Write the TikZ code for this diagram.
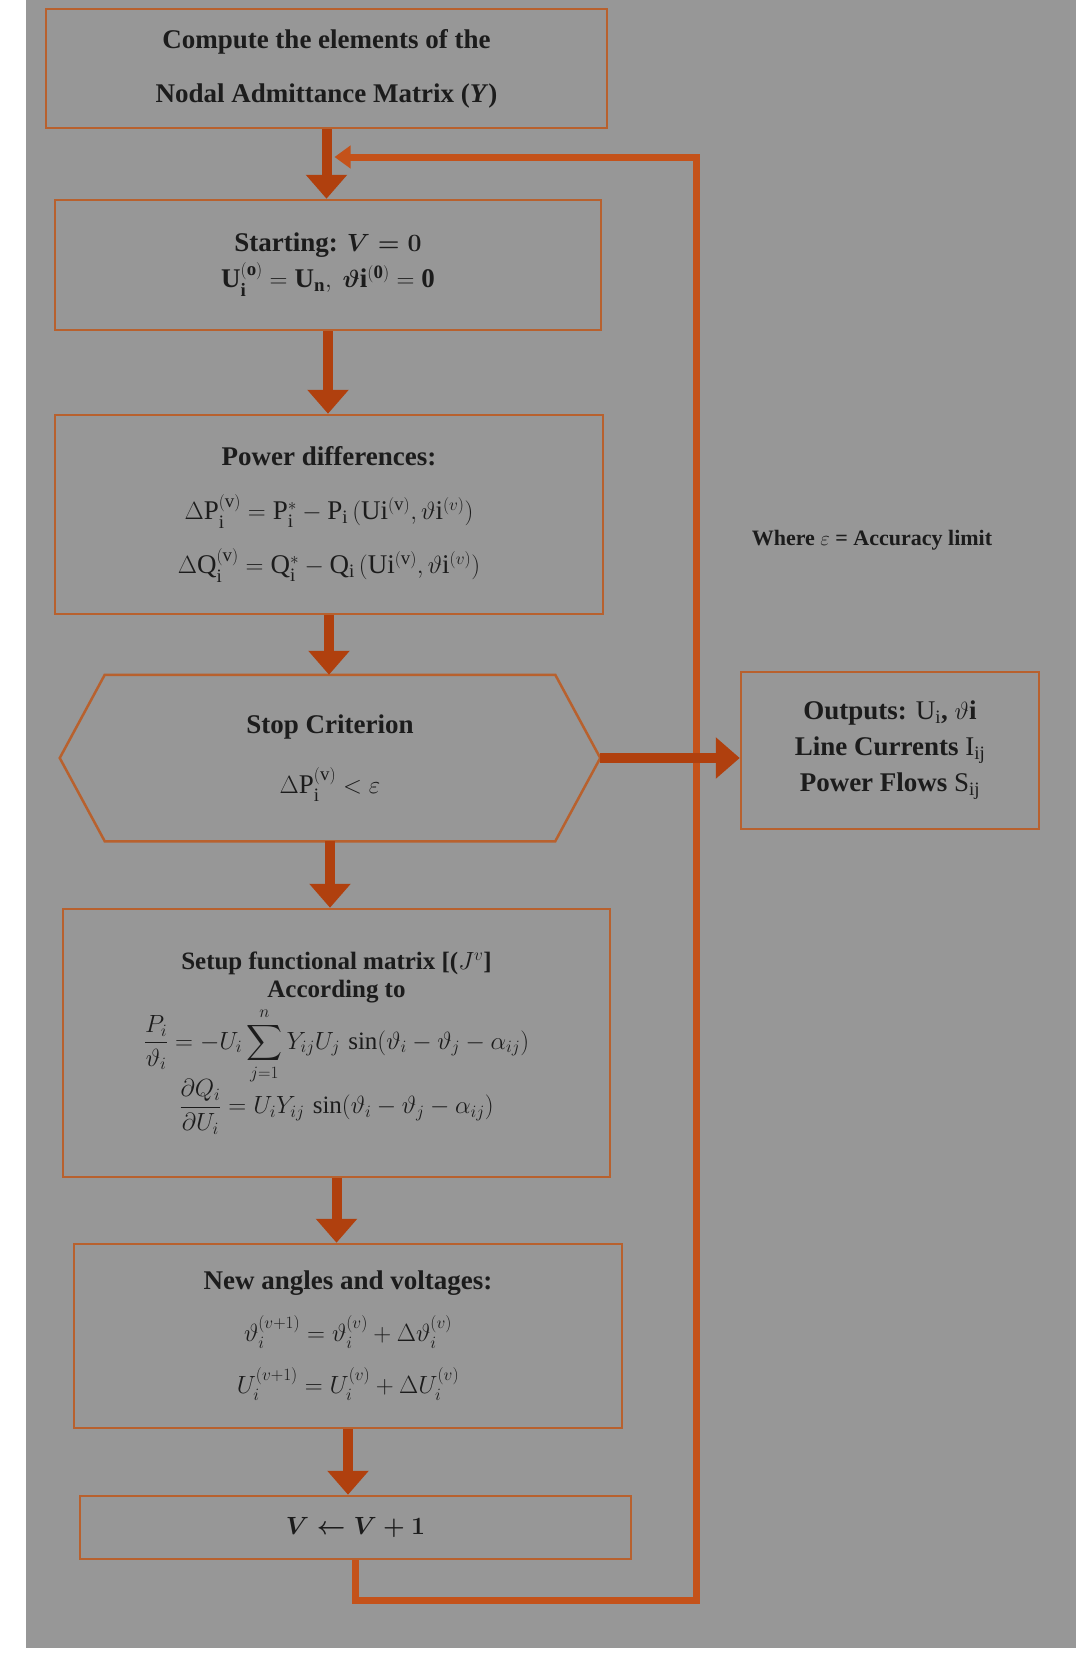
\documentclass[tikz,border=0pt]{standalone}
\usepackage{amsmath,amssymb}
\usepackage{fontspec}
\setmainfont{Liberation Serif}
\usetikzlibrary{arrows.meta,calc}
\definecolor{bg}{HTML}{979797}
\definecolor{edge}{HTML}{B8612E}
\definecolor{arr}{HTML}{B0400E}
\definecolor{loopc}{HTML}{C4521A}
\definecolor{ink}{HTML}{1C1C1C}
\tikzset{
 box/.style={draw=edge,line width=2.5pt,align=center,text=ink,font=\fontsize{27}{40}\selectfont\bfseries,inner sep=4pt},
 blk/.style={draw=arr,line width=10pt,-{Triangle[width=40pt,length=24pt]}},
 fb/.style={draw=loopc,line width=7pt,line join=miter},
}
\begin{document}
\begin{tikzpicture}[x=1pt,y=-1pt]
\fill[white] (0,0) rectangle (1087,1658);
\useasboundingbox (0,0) rectangle (1087,1658);
\fill[bg] (26,0) rectangle (1076,1648);
\node[box,minimum width=561,minimum height=119,font=\fontsize{27}{54}\selectfont\bfseries] (b1) at (326.5,68.5) {Compute the elements of the\\Nodal Admittance Matrix (\textit{Y})};
\node[box,minimum width=546,minimum height=130,font=\fontsize{27}{36}\selectfont\bfseries] (b2) at (328,265) {Starting: $\boldsymbol{V=0}$\\ $\mathbf{U_i^{(o)}=U_{n}},\ \boldsymbol{\vartheta}\mathbf{i^{(0)}=0}$};
\node[box,minimum width=548,minimum height=199,font=\fontsize{27}{54}\selectfont\bfseries] (b3) at (329,514.5) {Power differences:\\ $\Delta\mathrm{P_i^{(v)}=P_i^{*}-P_i\,(Ui^{(v)},\,}\vartheta\mathrm{i}^{(v)})$\\ $\Delta\mathrm{Q_i^{(v)}=Q_i^{*}-Q_i\,(Ui^{(v)},\,}\vartheta\mathrm{i}^{(v)})$};
\node[box,draw=none,minimum width=538,minimum height=164,font=\fontsize{27}{60}\selectfont\bfseries] (hex) at (330,758) {Stop Criterion\\ $\Delta\mathrm{P_i^{(v)}}<\varepsilon$};
\draw[edge,line width=2.5pt] (hex.west) -- ($(hex.north west)+(45,0)$) -- ($(hex.north east)+(-45,0)$) -- (hex.east) -- ($(hex.south east)+(-45,0)$) -- ($(hex.south west)+(45,0)$) -- cycle;
\node[box,minimum width=298,minimum height=157,font=\fontsize{27}{36}\selectfont\bfseries] (out) at (890,750.5) {Outputs: $\mathrm{U_i}$, $\vartheta$i\\Line Currents $\mathrm{I_{ij}}$\\Power Flows $\mathrm{S_{ij}}$};
\node[text=ink,font=\fontsize{22}{26}\selectfont\bfseries] (note) at (872,540) {Where $\varepsilon$ = Accuracy limit};
\node[box,minimum width=547,minimum height=268,font=\fontsize{25}{28}\selectfont\bfseries] (b5) at (336.5,1043) {Setup functional matrix [($J^{v}$]\\According to\\[4pt]
$\displaystyle \frac{P_i}{\vartheta_i}=-U_i\sum_{j=1}^{n}Y_{ij}U_j\,\sin(\vartheta_i-\vartheta_j-\alpha_{ij})$\\[-6pt]
$\displaystyle \frac{\partial Q_i}{\partial U_i}=U_iY_{ij}\,\sin(\vartheta_i-\vartheta_j-\alpha_{ij})$};
\node[box,minimum width=548,minimum height=184,font=\fontsize{27}{52}\selectfont\bfseries] (b6) at (348,1336) {New angles and voltages:\\ $\vartheta_i^{(v+1)}=\vartheta_i^{(v)}+\Delta\vartheta_i^{(v)}$\\ $U_i^{(v+1)}=U_i^{(v)}+\Delta U_i^{(v)}$};
\node[box,minimum width=551,minimum height=63] (b7) at (355.5,1527.5) {$\boldsymbol{V\leftarrow V+1}$};
\coordinate (c1) at (696,1600);
\coordinate (c2) at (696,157);
\draw[fb,-{Triangle[width=22pt,length=16pt]}] (b7.south) |- (c1) -- (c2) -- ([xshift=8pt]b1.south |- c2);
\draw[blk] (b1.south) -- (b1.south |- b2.north);
\draw[blk] (b2.south) -- (b2.south |- b3.north);
\draw[blk] (b3.south) -- (b3.south |- hex.north);
\draw[blk] (hex.south) -- (hex.south |- b5.north);
\draw[blk] (b5.south) -- (b5.south |- b6.north);
\draw[blk] (b6.south) -- (b6.south |- b7.north);
\draw[blk] (hex.east) -- (out.west |- hex.east);
\end{tikzpicture}
\end{document}
